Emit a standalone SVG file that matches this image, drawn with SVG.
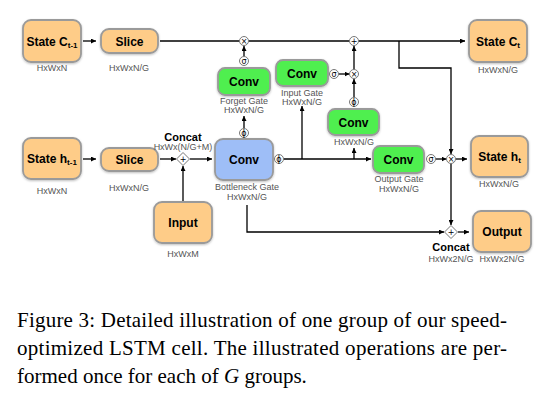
<svg xmlns="http://www.w3.org/2000/svg" width="546" height="408" viewBox="0 0 546 408">
<defs>
<marker id="ah" viewBox="0 0 10 10" refX="10" refY="5" markerWidth="5" markerHeight="5" orient="auto" markerUnits="userSpaceOnUse">
<path d="M0,0 L10,5 L0,10 z" fill="#000"/>
</marker>
<filter id="sh" x="-20%" y="-20%" width="140%" height="150%">
<feDropShadow dx="0" dy="1" stdDeviation="1" flood-color="#000" flood-opacity="0.25"/>
</filter>
</defs>
<style>
.box{stroke:#9a9a9a;stroke-width:1.8;filter:url(#sh)}
.or{fill:#FECC88}
.gr{fill:#4FEF4F}
.bl{fill:#9EBEF7}
.t{font-family:"Liberation Sans",Arial,sans-serif;font-weight:bold;font-size:12px;fill:#000;text-anchor:middle}
.s{font-family:"Liberation Sans",Arial,sans-serif;font-size:9px;fill:#555;text-anchor:middle}
.c{font-family:"Liberation Sans",Arial,sans-serif;font-weight:bold;font-size:11px;fill:#000;text-anchor:middle}
.ln{fill:none;stroke:#000;stroke-width:1.3}
.op{fill:#fff;stroke:#777;stroke-width:1}
.sym{font-family:"DejaVu Sans",sans-serif;font-size:8px;fill:#000;text-anchor:middle}
.cap{font-family:"Liberation Serif","Times New Roman",serif;font-size:21px;fill:#000}
</style>

<g id="connectors">
<path class="ln" d="M83,41 H96" marker-end="url(#ah)"/>
<path class="ln" d="M160,41 H239.5"/>
<path class="ln" d="M248.5,41 H349.5"/>
<path class="ln" d="M358.5,41 H465" marker-end="url(#ah)"/>
<path class="ln" d="M399,41 V68 H451 V154" marker-end="url(#ah)"/>
<path class="ln" d="M244,56.5 V46" marker-end="url(#ah)"/>
<path class="ln" d="M244,128.5 V116" marker-end="url(#ah)"/>
<path class="ln" d="M338.5,74 H349.5" marker-end="url(#ah)"/>
<path class="ln" d="M354,69.5 V46" marker-end="url(#ah)"/>
<path class="ln" d="M354,97.5 V79" marker-end="url(#ah)"/>
<path class="ln" d="M83,159 H96" marker-end="url(#ah)"/>
<path class="ln" d="M160,159 H176" marker-end="url(#ah)"/>
<path class="ln" d="M190,159 H212" marker-end="url(#ah)"/>
<path class="ln" d="M183,202 V166" marker-end="url(#ah)"/>
<path class="ln" d="M283.5,159 H371" marker-end="url(#ah)"/>
<path class="ln" d="M302,159 V106" marker-end="url(#ah)"/>
<path class="ln" d="M354,159 V148" marker-end="url(#ah)"/>
<path class="ln" d="M435.5,159 H446.5" marker-end="url(#ah)"/>
<path class="ln" d="M456,159 H467" marker-end="url(#ah)"/>
<path class="ln" d="M451,163.5 V225" marker-end="url(#ah)"/>
<path class="ln" d="M247,205 V232 H444" marker-end="url(#ah)"/>
<path class="ln" d="M458,232 H469" marker-end="url(#ah)"/>
</g>

<g id="stateC_prev">
<rect class="box or" x="23" y="20" width="58" height="42" rx="8"/>
<text class="t" x="52" y="45.5">State C<tspan font-size="8" dy="2">t-1</tspan></text>
<text class="s" x="52" y="71">HxWxN</text>
</g>
<g id="sliceC">
<rect class="box or" x="101" y="29" width="57" height="24" rx="8"/>
<text class="t" x="129.5" y="45.5">Slice</text>
<text class="s" x="129" y="71">HxWxN/G</text>
</g>
<g id="mulF">
<circle class="op" cx="244" cy="41" r="4.5"/>
<text class="sym" x="244" y="43.8">×</text>
</g>
<g id="sigF">
<circle class="op" cx="244" cy="61" r="4.5"/>
<text class="sym" x="244" y="63.5">σ</text>
</g>
<g id="forgetConv">
<rect class="box gr" x="218" y="68" width="52" height="27" rx="7"/>
<text class="t" x="244" y="86" font-size="11">Conv</text>
<text class="s" x="244" y="104">Forget Gate</text>
<text class="s" x="244" y="113">HxWxN/G</text>
</g>
<g id="phiF">
<circle class="op" cx="244" cy="133" r="4.5"/>
<text class="sym" x="244" y="135.8">ϕ</text>
</g>
<g id="addC">
<circle class="op" cx="354" cy="41" r="4.5"/>
<text class="sym" x="354" y="43.8">+</text>
</g>
<g id="inputConv">
<rect class="box gr" x="276" y="60" width="52" height="26" rx="7"/>
<text class="t" x="302" y="77.5" font-size="11">Conv</text>
<text class="s" x="302" y="96">Input Gate</text>
<text class="s" x="302" y="105">HxWxN/G</text>
</g>
<g id="sigI">
<circle class="op" cx="334" cy="74" r="4.5"/>
<text class="sym" x="334" y="76.5">σ</text>
</g>
<g id="mulI">
<circle class="op" cx="354" cy="74" r="4.5"/>
<text class="sym" x="354" y="76.8">×</text>
</g>
<g id="phiC">
<circle class="op" cx="354" cy="102" r="4.5"/>
<text class="sym" x="354" y="104.8">ϕ</text>
</g>
<g id="cellConv">
<rect class="box gr" x="328" y="109" width="51" height="26" rx="7"/>
<text class="t" x="353.5" y="126.5" font-size="11">Conv</text>
<text class="s" x="354" y="145">HxWxN/G</text>
</g>
<g id="stateC">
<rect class="box or" x="469" y="20" width="58" height="42" rx="8"/>
<text class="t" x="498" y="45.5">State C<tspan font-size="8" dy="2">t</tspan></text>
<text class="s" x="498" y="73">HxWxN/G</text>
</g>
<g id="stateH_prev">
<rect class="box or" x="23" y="138" width="58" height="41" rx="8"/>
<text class="t" x="52" y="163">State h<tspan font-size="8" dy="2">t-1</tspan></text>
<text class="s" x="52" y="194">HxWxN</text>
</g>
<g id="sliceH">
<rect class="box or" x="101" y="148" width="57" height="23" rx="8"/>
<text class="t" x="129.5" y="163.5">Slice</text>
<text class="s" x="129" y="191">HxWxN/G</text>
</g>
<g id="concat1">
<path d="M183,152.5 L189.5,159 L183,165.5 L176.5,159 z" fill="#fff" stroke="#777" stroke-width="1"/>
<text class="sym" x="183" y="161.8">+</text>
<text class="c" x="183" y="141">Concat</text>
<text class="s" x="183" y="150">HxWx(N/G+M)</text>
</g>
<g id="input">
<rect class="box or" x="154" y="202" width="58" height="41" rx="8"/>
<text class="t" x="183" y="227">Input</text>
<text class="s" x="183" y="257">HxWxM</text>
</g>
<g id="bottleneckConv">
<rect class="box bl" x="215" y="139" width="58" height="41" rx="8"/>
<text class="t" x="244" y="164">Conv</text>
<text class="s" x="247" y="190">Bottleneck Gate</text>
<text class="s" x="247" y="200">HxWxN/G</text>
</g>
<g id="phiB">
<circle class="op" cx="279" cy="159" r="4.5"/>
<text class="sym" x="279" y="161.8">ϕ</text>
</g>
<g id="outputConv">
<rect class="box gr" x="373" y="146" width="51" height="27" rx="7"/>
<text class="t" x="398.5" y="164" font-size="11">Conv</text>
<text class="s" x="399" y="182">Output Gate</text>
<text class="s" x="399" y="192">HxWxN/G</text>
</g>
<g id="sigO">
<circle class="op" cx="431" cy="159" r="4.5"/>
<text class="sym" x="431" y="161.5">σ</text>
</g>
<g id="mulO">
<circle class="op" cx="451" cy="159" r="4.5"/>
<text class="sym" x="451" y="161.8">×</text>
</g>
<g id="stateH">
<rect class="box or" x="471" y="136" width="57" height="41" rx="8"/>
<text class="t" x="499.5" y="161">State h<tspan font-size="8" dy="2">t</tspan></text>
<text class="s" x="499" y="187">HxWxN/G</text>
</g>
<g id="concat2">
<path d="M451,225.5 L457.5,232 L451,238.5 L444.5,232 z" fill="#fff" stroke="#777" stroke-width="1"/>
<text class="sym" x="451" y="234.8">+</text>
<text class="c" x="451" y="251">Concat</text>
<text class="s" x="451" y="262">HxWx2N/G</text>
</g>
<g id="output">
<rect class="box or" x="473" y="211" width="58" height="41" rx="8"/>
<text class="t" x="502" y="236">Output</text>
<text class="s" x="502" y="262">HxWx2N/G</text>
</g>

<g id="caption">
<text class="cap" x="17" y="327" textLength="490" lengthAdjust="spacing">Figure 3: Detailed illustration of one group of our speed-</text>
<text class="cap" x="17" y="355" textLength="490" lengthAdjust="spacing">optimized LSTM cell.  The illustrated operations are per-</text>
<text class="cap" x="17" y="383">formed once for each of <tspan font-style="italic">G</tspan> groups.</text>
</g>
</svg>
